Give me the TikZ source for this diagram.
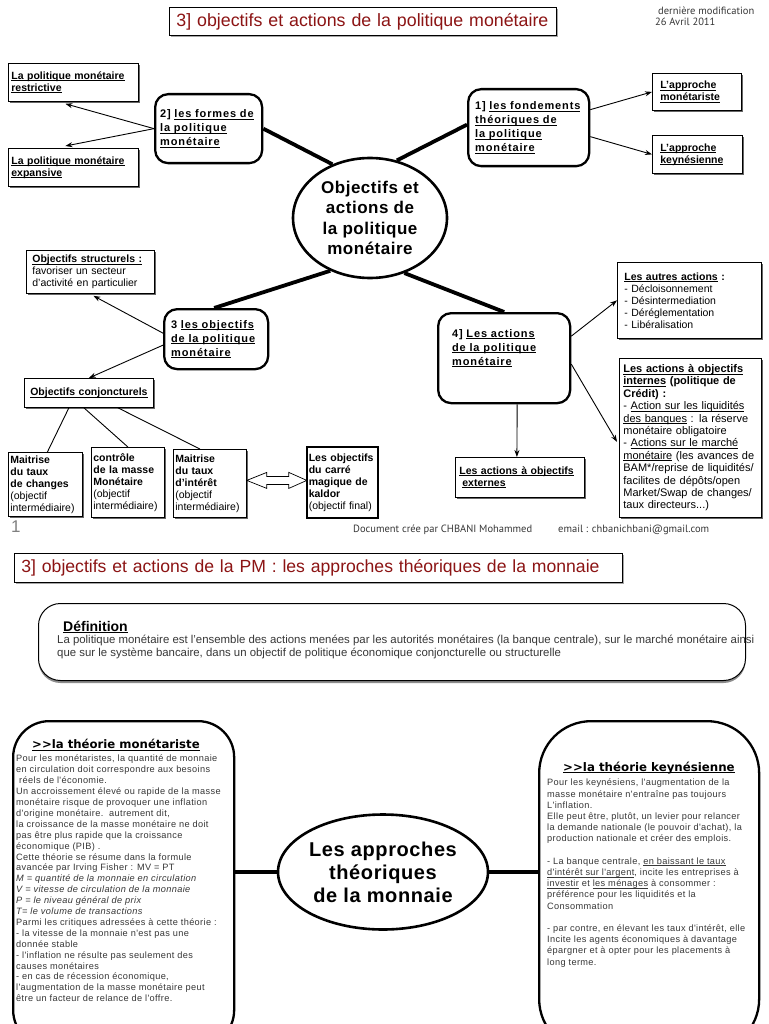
\documentclass[tikz,border=0pt]{standalone}
\usepackage{fontspec}
\setmainfont{Liberation Sans}
\newfontfamily\lsA[LetterSpace=8]{Liberation Sans}
\newfontfamily\lsB[LetterSpace=4]{Liberation Sans}
\newfontfamily\lsC[LetterSpace=3]{Liberation Sans}
\newfontfamily\dv{DejaVu Sans}
\newfontfamily\pts{PT Sans}
\newcommand\myul[1]{\leavevmode\setbox0\hbox{#1}\rlap{\rule[-1.7pt]{\wd0}{0.7pt}}\box0\relax}
\usetikzlibrary{shapes.geometric,arrows.meta,calc,shadows}
\definecolor{titred}{RGB}{140,20,20}
\definecolor{txtgray}{RGB}{55,55,55}
\begin{document}
\begin{tikzpicture}[x=1pt,y=-1pt,
  sq/.style={draw, line width=0.8pt, fill=white, drop shadow={shadow xshift=1.3pt, shadow yshift=-1.3pt, fill=black!60, opacity=1}, inner ysep=0pt, anchor=north west, align=left},
  rnd/.style={draw, line width=2.3pt, rounded corners=13pt, fill=white, inner ysep=0pt, anchor=north west, align=left, font=\lsA\bfseries\fontsize{11}{14}\selectfont},
  ttl/.style={draw, line width=0.8pt, fill=white, drop shadow={shadow xshift=1.5pt, shadow yshift=-1.5pt, fill=black!35, opacity=1}, anchor=north west, inner ysep=0pt, align=left, text=titred},
  conn/.style={line width=3.8pt},
  arr/.style={line width=0.9pt, -{Stealth[length=7pt,width=5pt]}},
  lnk/.style={line width=0.9pt},
  bx/.style={font=\bfseries\fontsize{10.5}{12}\selectfont},
  sm/.style={font=\fontsize{10.5}{12}\selectfont},
]
\useasboundingbox (0,0) rectangle (768,1024);
\fill[white] (0,0) rectangle (768,1024);

% ---------- page 1 ----------
\node[ttl, text width=373, inner xsep=7, minimum height=28, font=\fontsize{17.8}{19}\selectfont] (t1) at (169,7) {\mbox{3] objectifs et actions de la politique monétaire}};
\node[anchor=north west, inner sep=0, align=left, font=\pts\fontsize{10.5}{11}\selectfont, text=txtgray] (date) at (655,7) {\hspace*{3pt}dernière modification\\26 Avril 2011};

\node[sq, bx, text width=124, inner xsep=3, minimum height=38] (restr) at (8,63) {\myul{La politique monétaire}\\\myul{restrictive}};
\node[sq, bx, text width=124, inner xsep=3, minimum height=38] (expans) at (8,148) {\myul{La politique monétaire}\\\myul{expansive}};
\node[rnd, text width=97, inner xsep=5, minimum height=69] (b2) at (154,93) {2] \myul{les formes de}\\\myul{la politique}\\\myul{monétaire}};

\node[ellipse, draw, line width=2.6pt, fill=white, minimum width=154, minimum height=120, inner sep=0, align=center, font=\lsC\bfseries\fontsize{17}{20.5}\selectfont] (c) at (370,218) {Objectifs et\\actions de\\la politique\\monétaire};

\node[rnd, text width=107, inner xsep=7, minimum height=77] (b1) at (467,88) {1] \myul{les fondements}\\\myul{théoriques de}\\\myul{la politique}\\\myul{monétaire}};
\node[sq, bx, text width=73, inner xsep=8, minimum height=37] (monet) at (652,73) {\myul{L'approche}\\\myul{monétariste}};
\node[sq, bx, text width=74, inner xsep=8, minimum height=38] (keyn) at (652,135) {\myul{L'approche}\\\myul{keynésienne}};

\node[sq, sm, text width=116, inner xsep=6, minimum height=43] (struct) at (26,250) {\textbf{\myul{Objectifs structurels :}}\\favoriser un secteur\\d'activité en particulier};
\node[rnd, text width=90, inner xsep=7, minimum height=60] (b3) at (163,308) {3 \myul{les objectifs}\\\myul{de la politique}\\\myul{monétaire}};
\node[sq, bx, text width=123, inner xsep=3, minimum height=29, align=center] (conj) at (24,378) {\myul{Objectifs conjoncturels}};

\node[sq, sm, text width=70, inner xsep=2, minimum height=64] (mtc) at (8,452) {\textbf{Maitrise}\\\textbf{du taux}\\\textbf{de changes}\\(objectif\\intermédiaire)};
\node[sq, sm, text width=69, inner xsep=2, minimum height=70] (cmm) at (91,447) {\textbf{contrôle}\\\textbf{de la masse}\\\textbf{Monétaire}\\(objectif\\intermédiaire)};
\node[sq, sm, text width=69, inner xsep=2, minimum height=68] (mti) at (173,449) {\textbf{Maitrise}\\\textbf{du taux}\\\textbf{d'intérêt}\\(objectif\\intermédiaire)};
\node[sq, sm, line width=1.6pt, text width=67, inner xsep=2, minimum height=71] (kal) at (306,446) {\textbf{Les objectifs}\\\textbf{du carré}\\\textbf{magique de}\\\textbf{kaldor}\\(objectif final)};

\node[rnd, text width=104, inner xsep=14, minimum height=90, text depth=50pt] (b4) at (437,312) {4] \myul{Les actions}\\\myul{de la politique}\\\myul{monétaire}};
\node[sq, sm, text width=130, inner xsep=7, minimum height=76] (autres) at (617,262) {\textbf{\myul{Les autres actions} :}\\- Décloisonnement\\- Désintermediation\\- Déréglementation\\- Libéralisation};
\node[sq, text width=134, inner xsep=4, minimum height=159, font=\fontsize{11}{12.4}\selectfont] (internes) at (619,358) {\textbf{\myul{Les actions à objectifs}}\\\textbf{\myul{internes} (politique de}\\\textbf{Crédit) :}\\- \myul{Action sur les liquidités}\\\myul{des banques} : la réserve\\monétaire obligatoire\\- \myul{Actions sur le marché}\\\myul{monétaire} (les avances de\\BAM*/reprise de liquidités/\\facilites de dépôts/open\\Market/Swap de changes/\\taux directeurs...)};
\node[sq, bx, text width=121, inner xsep=4, minimum height=40] (externes) at (455,457) {\myul{Les actions à objectifs}\\\hspace*{3pt}\myul{externes}};

% connectors page 1
\draw[arr] (b2.west) -- ($(restr.south)+(-8,2)$);
\draw[arr] (b2.west) -- ($(expans.north)+(-8,-2)$);
\draw[conn] (b2.east) -- (c.125);
\draw[conn] (c.65) -- ($(b1.west)+(0,-3)$);
\draw[arr] ($(b1.east)+(0,-18)$) -- (monet.west);
\draw[arr] ($(b1.east)+(0,9)$) -- (keyn.west);
\draw[conn] (c.233) -- ($(b3.north)+(-2,0)$);
\draw[arr] ($(b3.west)+(0,-6)$) -- ($(struct.south)+(3,2)$);
\draw[arr] ($(b3.west)+(0,6)$) -- (conj.north);
\draw[lnk] ($(conj.south)+(-20,0)$) -- ($(mtc.north)+(2,0)$);
\draw[lnk] ($(conj.south)+(-5,0)$) -- (cmm.north);
\draw[lnk] ($(conj.south)+(29,0)$) -- ($(mti.north)+(-10,0)$);
\draw[line width=0.7pt, fill=white] ($(mti.east)+(0,-3)$) -- ++(20,-8) -- ++(0,4) -- ++(22,0) -- ++(0,-4) -- ++(18,8) -- ++(-18,8) -- ++(0,-4) -- ++(-22,0) -- ++(0,4) -- cycle;
\draw[conn] (c.302) -- (b4.north);
\draw[arr] ($(b4.east)+(0,-22)$) -- (autres.west);
\draw[arr] ($(b4.east)+(0,6)$) -- ($(internes.west)+(-2,4)$);
\draw[arr] ($(b4.south)+(13,0)$) -- ($(externes.north)+(-3,0)$);

% footer
\node[anchor=west, inner sep=0, font=\fontsize{17}{17}\selectfont, text=black!50] (pnum) at (11,527) {1};
\node[anchor=west, inner sep=0, font=\pts\fontsize{10.5}{11}\selectfont, text=txtgray] (auth) at (353,530) {Document crée par CHBANI Mohammed};
\node[anchor=west, inner sep=0, font=\pts\fontsize{10.5}{11}\selectfont, text=txtgray] (mail) at (558,530) {email : chbanichbani@gmail.com};

% ---------- page 2 ----------
\node[ttl, text width=594, inner xsep=7, minimum height=29, font=\fontsize{17.6}{19}\selectfont] (t2) at (14,553) {\mbox{3] objectifs et actions de la PM : les approches théoriques de la monnaie}};

\node[draw, line width=1pt, rounded corners=22pt, minimum width=707, minimum height=77, anchor=north west, inner sep=0, fill=white, drop shadow={shadow xshift=0pt, shadow yshift=-2.5pt, fill=black!45, opacity=1}] (def) at (38,603) {};
\node[anchor=north west, inner sep=0, align=left, font=\fontsize{11.4}{12.5}\selectfont, text=txtgray] (deftext) at (57,621) {\hspace*{6pt}{\color{black}\bfseries\fontsize{14}{16}\selectfont\myul{Définition}}\\La politique monétaire est l'ensemble des actions menées par les autorités monétaires (la banque centrale), sur le marché monétaire ainsi\\que sur le système bancaire, dans un objectif de politique économique conjoncturelle ou structurelle};

\node[draw, line width=2.3pt, rounded corners=36pt, minimum width=221, minimum height=325, anchor=north west, inner sep=0] (lbox) at (12,720) {};
\node[anchor=west, inner sep=0, font=\dv\bfseries\fontsize{11.7}{13}\selectfont] (ltitle) at (32,745) {\myul{>{}>la théorie monétariste}};
\node[anchor=north west, inner sep=0, align=left, font=\lsB\fontsize{9.2}{10.9}\selectfont, text=txtgray] (ltext) at (16,755) {Pour les monétaristes, la quantité de monnaie\\en circulation doit correspondre aux besoins\\\hspace*{3pt}réels de l'économie.\\Un accroissement élevé ou rapide de la masse\\monétaire risque de provoquer une inflation\\d'origine monétaire.\ \ autrement dit,\\la croissance de la masse monétaire ne doit\\pas être plus rapide que la croissance\\économique (PIB) .\\Cette théorie se résume dans la formule\\avancée par Irving Fisher : MV = PT\\\textit{M = quantité de la monnaie en circulation}\\\textit{V = vitesse de circulation de la monnaie}\\\textit{P = le niveau général de prix}\\\textit{T= le volume de transactions}\\Parmi les critiques adressées à cette théorie :\\- la vitesse de la monnaie n'est pas une\\donnée stable\\- l'inflation ne résulte pas seulement des\\causes monétaires\\- en cas de récession économique,\\l'augmentation de la masse monétaire peut\\être un facteur de relance de l'offre.};

\node[draw, line width=2.3pt, rounded corners=52pt, minimum width=220, minimum height=330, anchor=north west, inner sep=0] (rbox) at (538,720) {};
\node[anchor=west, inner sep=0, font=\dv\bfseries\fontsize{11.8}{13}\selectfont] (rtitle) at (563,768) {\myul{>{}>la théorie keynésienne}};
\node[anchor=north west, inner sep=0, align=left, font=\lsB\fontsize{9.2}{11.2}\selectfont, text=txtgray] (rtext) at (547,779) {Pour les keynésiens, l'augmentation de la\\masse monétaire n'entraîne pas toujours\\L'inflation.\\Elle peut être, plutôt, un levier pour relancer\\la demande nationale (le pouvoir d'achat), la\\production nationale et créer des emplois.\\[11.2pt]- La banque centrale, \myul{en baissant le taux}\\\myul{d'intérêt sur l'argent}, incite les entreprises à\\\myul{investir} et \myul{les ménages} à consommer :\\préférence pour les liquidités et la\\Consommation\\[11.2pt]- par contre, en élevant les taux d'intérêt, elle\\Incite les agents économiques à davantage\\épargner et à opter pour les placements à\\long terme.};

\node[ellipse, draw, line width=2.6pt, fill=white, minimum width=210, minimum height=115, inner sep=0, align=center, font=\lsC\bfseries\fontsize{20}{23}\selectfont] (c2) at (383,872) {Les approches\\théoriques\\de la monnaie};
\draw[conn] (c2.west) -- (c2.west -| lbox.east);
\draw[conn] (c2.east) -- (c2.east -| rbox.west);
\end{tikzpicture}
\end{document}
